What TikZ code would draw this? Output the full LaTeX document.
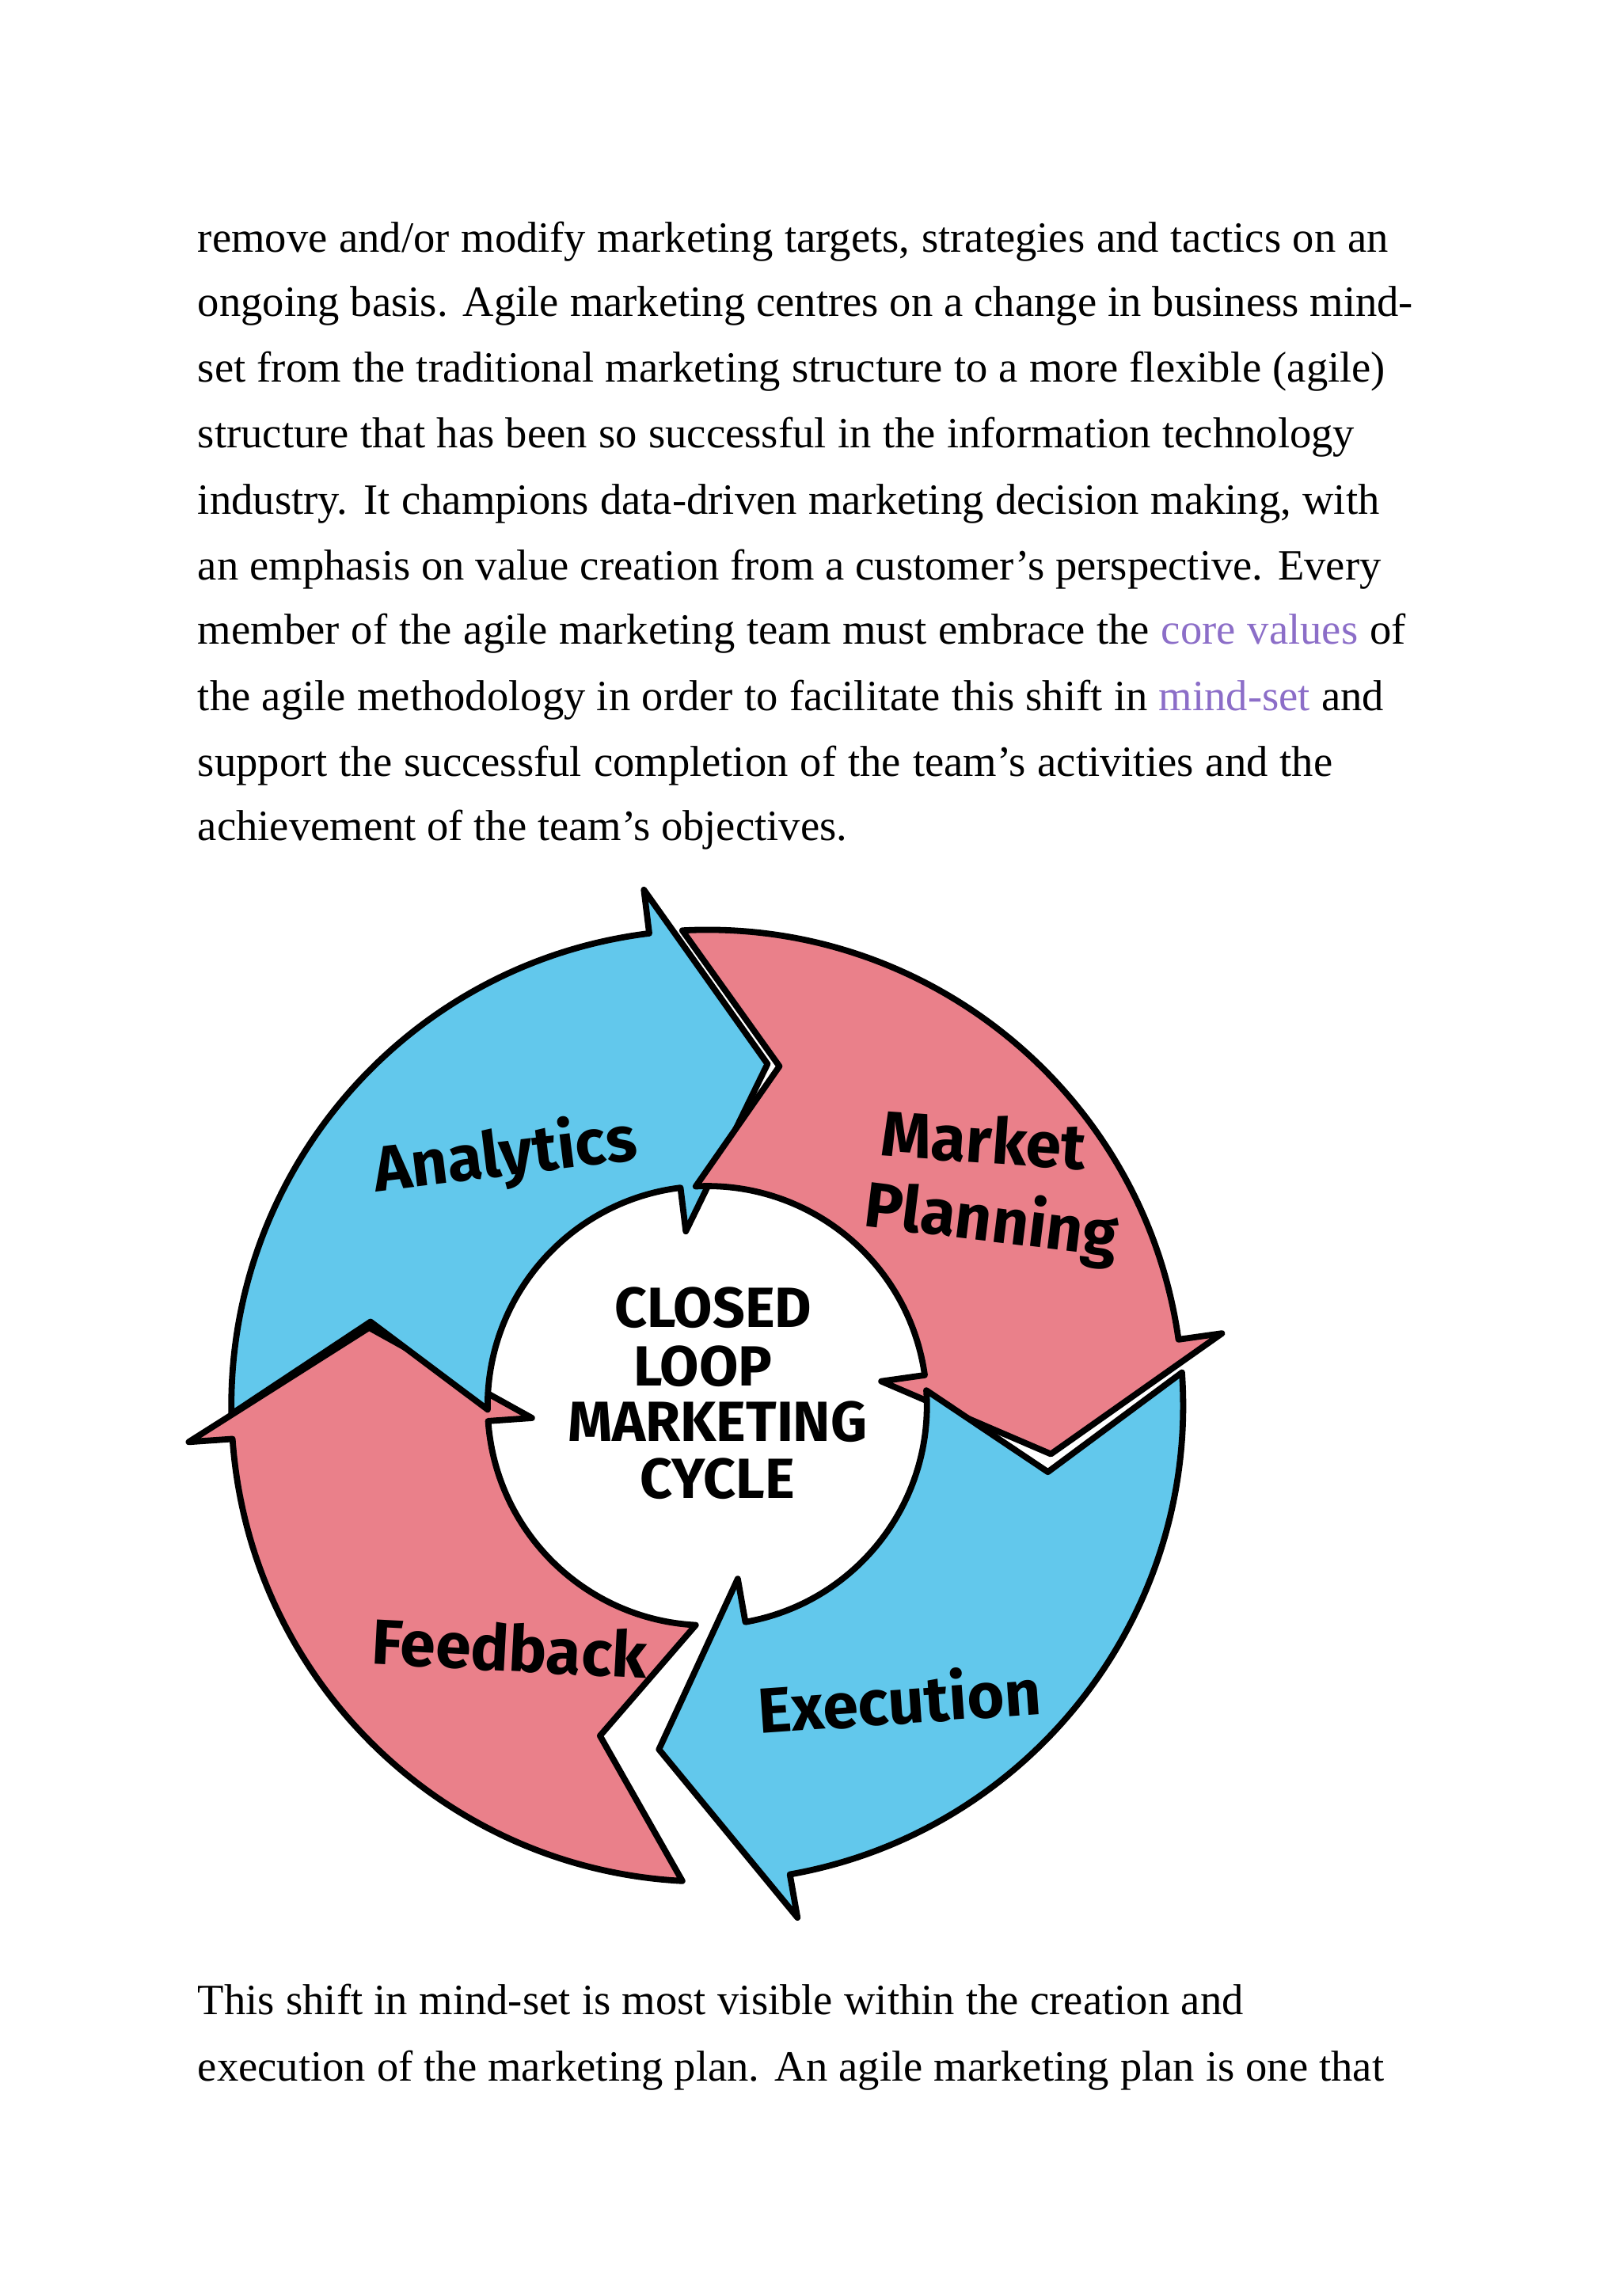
\documentclass[tikz,border=0pt]{standalone}
\usepackage{fontspec}
\setmainfont{Liberation Serif}
\newfontfamily\hand{Fira Sans}
\definecolor{cblue}{RGB}{98,200,236}
\definecolor{cred}{RGB}{234,128,138}
\definecolor{lnk}{RGB}{140,110,200}
\newcommand\cycarrow[4]{%
\filldraw[arrowsty, fill=#4] (#1:325) arc[start angle=#1, end angle=#2, radius=325] -- (#2:355) -- (#3:237) -- (#2:120) -- (#2:150) arc[start angle=#2, end angle=#1, radius=150] -- (#1-15:237) -- cycle;}
\begin{document}
\begin{tikzpicture}[x=0.05cm,y=0.05cm,
  para/.style={anchor=base west, inner sep=0, font=\fontsize{42}{50}\selectfont},
  arrowsty/.style={draw=black, line width=6pt, line join=round},
  lbl/.style={font=\hand\bfseries\fontsize{62}{66}\selectfont, inner sep=0},
  ctr/.style={font=\hand\bfseries\fontsize{55}{57}\selectfont, inner sep=0}]
\useasboundingbox (0,0) rectangle (1108,-1568);
\fill[white] (0,0) rectangle (1108,-1568);
\node[para] (l1) at (135,-172) {\makebox[813\dimexpr0.05cm][s]{remove and/or modify marketing targets, strategies and tactics on an}};
\node[para] (l2) at (135,-216) {\makebox[830\dimexpr0.05cm][s]{ongoing basis. Agile marketing centres on a change in business mind-}};
\node[para] (l3) at (135,-261) {\makebox[811\dimexpr0.05cm][s]{set from the traditional marketing structure to a more flexible (agile)}};
\node[para] (l4) at (135,-306) {\makebox[790\dimexpr0.05cm][s]{structure that has been so successful in the information technology}};
\node[para] (l5) at (135,-351) {\makebox[807\dimexpr0.05cm][s]{industry. It champions data-driven marketing decision making, with}};
\node[para] (l6) at (135,-396) {\makebox[808\dimexpr0.05cm][s]{an emphasis on value creation from a customer’s perspective. Every}};
\node[para] (l7) at (135,-440) {\makebox[825\dimexpr0.05cm][s]{member of the agile marketing team must embrace the \textcolor{lnk}{core values} of}};
\node[para] (l8) at (135,-485) {\makebox[810\dimexpr0.05cm][s]{the agile methodology in order to facilitate this shift in \textcolor{lnk}{mind-set} and}};
\node[para] (l9) at (135,-530) {\makebox[775\dimexpr0.05cm][s]{support the successful completion of the team’s activities and the}};
\node[para] (l10) at (135,-574) {achievement of the team’s objectives.};
\node[para] (m1) at (135,-1376) {\makebox[714\dimexpr0.05cm][s]{This shift in mind-set is most visible within the creation and}};
\node[para] (m2) at (135,-1421) {\makebox[810\dimexpr0.05cm][s]{execution of the marketing plan. An agile marketing plan is one that}};
\begin{scope}[shift={(483,-960)}]
\cycarrow{-93}{-176}{-193}{cred}
\cycarrow{181}{97}{80}{cblue}
\cycarrow{93}{8}{-8}{cred}
\cycarrow{4}{-80}{-98}{cblue}
\end{scope}
\node[lbl, rotate=7] (an) at (345,-790) {Analytics};
\node[lbl, rotate=-4] (mk) at (672,-778) {Market};
\node[lbl, rotate=-7] (pl) at (677,-835) {Planning};
\node[lbl, rotate=4] (ex) at (614,-1160) {Execution};
\node[lbl, rotate=-3] (fb) at (348,-1125) {Feedback};
\node[ctr] (c1) at (487,-893) {CLOSED};
\node[ctr] (c2) at (480,-933) {LOOP};
\node[ctr] (c3) at (490,-971) {MARKETING};
\node[ctr] (c4) at (490,-1010) {CYCLE};
\end{tikzpicture}
\end{document}
